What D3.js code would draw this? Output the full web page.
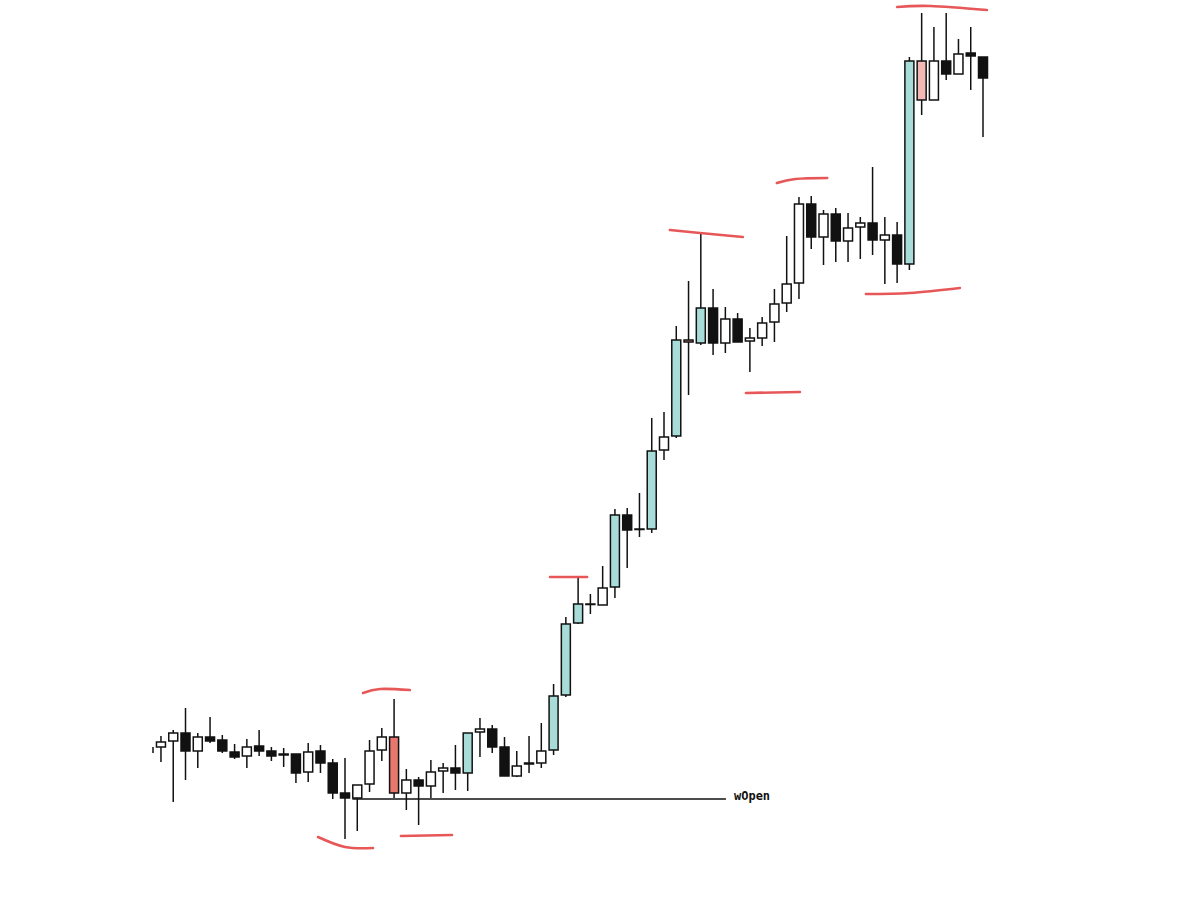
<!DOCTYPE html>
<html>
<head>
<meta charset="utf-8">
<script src="https://cdn.jsdelivr.net/npm/d3@7"></script>
<style>
  html, body { margin: 0; padding: 0; background: #ffffff; }
  svg { display: block; }
</style>
</head>
<body>
<script>
// ---- data (price units) ----
const openVals  = [150,153,159,167,149,163,160,148,144,154,149,146,146,128,149,137,107,102,116,150,163,107,120,114,129,132,127,168,171,153,124,136,137,150,205,277,296,295,313,385,371,371,450,464,560,557,592,557,581,559,562,578,597,617,696,663,686,659,673,677,660,665,636,839,800,839,826,847,843];
const highVals  = [153,164,170,192,167,183,165,156,161,170,153,152,146,157,155,141,142,115,160,172,201,131,123,140,137,155,167,182,175,163,149,164,177,216,283,323,306,334,391,392,407,482,488,574,619,666,611,593,587,572,583,611,664,703,704,690,692,687,683,733,683,678,843,887,873,887,861,873,843];
const lowVals   = [147,138, 98,120,132,157,147,141,132,144,139,133,117,118,127,101, 61, 69,108,139,102, 90, 75,102,107,110,109,143,147,124,123,127,132,145,203,276,286,295,302,332,363,367,440,462,505,555,545,547,558,528,554,558,588,601,651,635,638,638,641,645,616,617,630,785,800,820,826,810,763];
const closeVals = [150,158,167,149,163,159,149,143,153,149,144,145,127,148,137,107,102,115,149,163,107,120,114,128,132,127,167,171,153,124,134,137,149,204,276,296,296,312,385,370,371,449,463,560,558,592,557,581,558,562,577,596,616,696,663,686,659,672,677,660,665,636,839,800,839,826,846,844,822];
// highlighted candles: index -> highlight kind
const tealCandles = [26,33,34,35,38,41,43,45,62];
const redCandles  = [20];
const pinkCandles = [44,63];
const softRedCandles = [44];
const wickOnlyCandles = [0];

// weekly open level
const wOpenLevel = 101;
const wOpenFrom = 16.6;
const wOpenTo = 47.05;
const wOpenLabel = "wOpen";

// hand-drawn red annotation strokes: [index, price]
const marks = [
  [[17.47,207],[18.85,211],[21.29,210]],
  [[13.8,63],[16.0,53],[18.28,52]],
  [[20.56,64],[24.72,65]],
  [[32.71,323],[35.73,323]],
  [[42.48,670],[44.93,667],[48.43,663]],
  [[48.68,507],[53.08,508]],
  [[51.2,717],[52.7,721],[55.3,722]],
  [[58.46,606],[62.05,607],[66.12,612]],
  [[61.0,893],[63.7,894],[68.32,890]]
];

// ---- build ----
const W = 1200, H = 900;
const candles = openVals.map((o,i) => ({i, o, h: highVals[i], l: lowVals[i], c: closeVals[i]}));

const x = d3.scaleLinear().domain([0, 68]).range([148.7, 983]);
const y = d3.scaleLinear().domain([0, 900]).range([900, 0]);
// the first, partly cut candle sits a little right of its slot
const cx = d => wickOnlyCandles.includes(d.i) ? x(d.i + 0.35) : x(d.i);

const svg = d3.select("body").append("svg").attr("width", W).attr("height", H);
svg.append("rect").attr("width", W).attr("height", H).attr("fill", "#ffffff");

function fillOf(d) {
  if (tealCandles.includes(d.i)) return "#a7dcd9";
  if (redCandles.includes(d.i)) return "#e8786f";
  if (softRedCandles.includes(d.i)) return "#e59c96";
  if (pinkCandles.includes(d.i)) return "#f3b9b4";
  return d.c >= d.o ? "#ffffff" : "#111111";
}

// wOpen line
svg.append("line")
  .attr("x1", x(wOpenFrom)).attr("x2", x(wOpenTo))
  .attr("y1", y(wOpenLevel)).attr("y2", y(wOpenLevel))
  .attr("stroke", "#111").attr("stroke-width", 1.4);
svg.append("text")
  .attr("x", x(wOpenTo) + 8).attr("y", y(wOpenLevel) + 1)
  .attr("font-family", "DejaVu Sans Mono, monospace")
  .attr("font-weight", "bold").attr("font-size", 12)
  .attr("fill", "#111").text(wOpenLabel);

const bw = 9;
const g = svg.append("g");
const cg = g.selectAll("g.c").data(candles).join("g").attr("class","c");
cg.append("line")
  .attr("x1", cx).attr("x2", cx)
  .attr("y1", d => y(d.h)).attr("y2", d => y(d.l))
  .attr("stroke", "#111").attr("stroke-width", 1.5);
cg.filter(d => !wickOnlyCandles.includes(d.i)).append("rect")
  .attr("x", d => cx(d) - bw/2)
  .attr("width", bw)
  .attr("y", d => y(Math.max(d.o, d.c)))
  .attr("height", d => Math.max(0.5, Math.abs(y(d.o) - y(d.c))))
  .attr("fill", fillOf)
  .attr("stroke", "#111").attr("stroke-width", 1.5);

// red annotation strokes
const line = d3.line().x(p => x(p[0])).y(p => y(p[1])).curve(d3.curveNatural);
svg.append("g").selectAll("path").data(marks).join("path")
  .attr("d", line)
  .attr("fill", "none")
  .attr("stroke", "#e5494a")
  .attr("stroke-width", 2.6)
  .attr("stroke-linecap", "round")
  .attr("opacity", 0.92);
</script>
</body>
</html>
